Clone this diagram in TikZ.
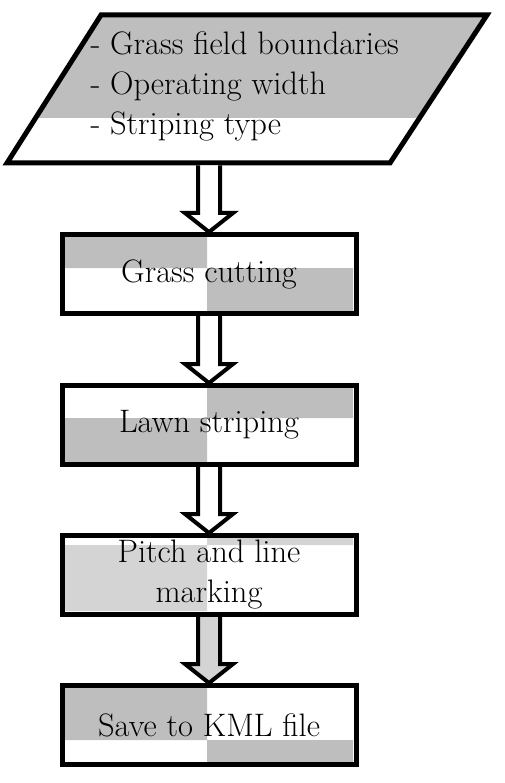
\documentclass[tikz,border=0pt]{standalone}
\usetikzlibrary{calc}
\definecolor{shadeA}{RGB}{190,190,190}
\definecolor{shadeB}{RGB}{212,212,212}
\newcommand{\flowarrow}[3][white]{%
\draw[line width=4pt, line join=miter, fill=#1] ($(#2)+(-11,0)$) -- ($(#3)+(-11,-19)$) -- ($(#3)+(-24,-19)$) -- (#3) -- ($(#3)+(24,-19)$) -- ($(#3)+(11,-19)$) -- ($(#2)+(11,0)$);}
\begin{document}
\begin{tikzpicture}[x=1pt, y=-1pt, line width=5pt,
  stepbox/.style={draw, minimum width=294pt, minimum height=79pt, inner sep=0pt, align=center, font=\fontsize{32.5}{40}\selectfont}]
\useasboundingbox (0,0) rectangle (504,783);
\fill[shadeA] (101,15) -- (487,15) -- (419.5,118) -- (35,118) -- cycle;
\draw[line join=miter] (101,15) -- (487,15) -- (390,163) -- (7,163) -- cycle;
\node[anchor=west, align=left, inner sep=0pt, font=\fontsize{32.5}{40}\selectfont] (input) at (88,86) {- Grass field boundaries\\- Operating width\\- Striping type};
\coordinate (inbot) at (209,165.5);
\fill[shadeA] (65,237) rectangle (207,268) (207,268) rectangle (353,311);
\node[stepbox] (cut) at (209,274) {Grass cutting};
\fill[shadeA] (207,388) rectangle (353,418) (65,418) rectangle (207,463);
\node[stepbox] (stripe) at (209,425) {Lawn striping};
\fill[shadeB] (207,538) rectangle (353,545) (65,545) rectangle (207,611);
\node[stepbox] (mark) at (209,575) {Pitch and line\\marking};
\fill[shadeA] (65,688) rectangle (207,740) (207,740) rectangle (353,763);
\node[stepbox] (kml) at (209,725) {Save to KML file};
\flowarrow{inbot}{cut.north}
\flowarrow{cut.south}{stripe.north}
\flowarrow{stripe.south}{mark.north}
\flowarrow[shadeB]{mark.south}{kml.north}
\end{tikzpicture}
\end{document}
